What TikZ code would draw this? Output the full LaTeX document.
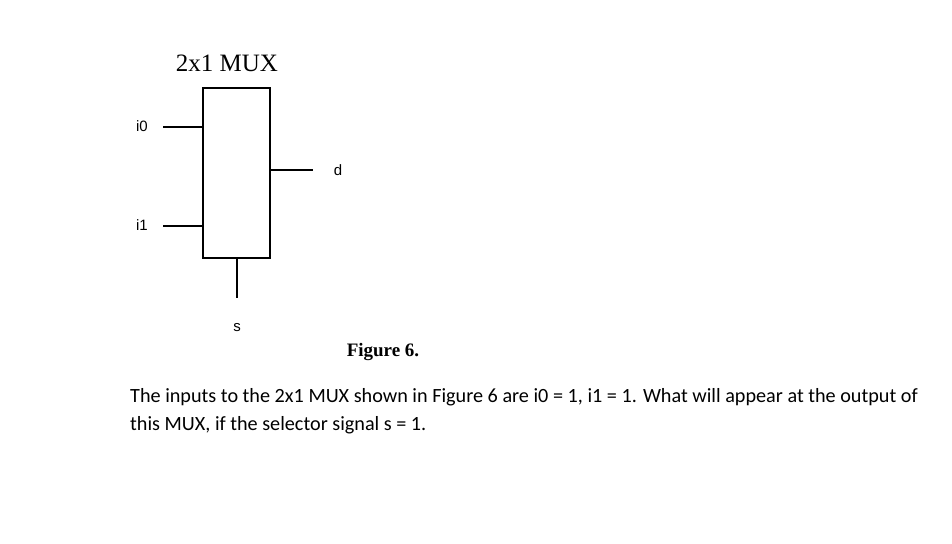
\documentclass[tikz,border=0pt]{standalone}
\usepackage{fontspec}
\setmainfont{Liberation Serif}
\newfontfamily\sansf{Liberation Sans}
\newfontfamily\calib{Carlito}
\begin{document}
\begin{tikzpicture}[x=1pt,y=-1pt,
  wire/.style={draw=black,line width=1.2pt},
  lbl/.style={font=\sansf\fontsize{15}{17}\selectfont,inner sep=0pt},
  para/.style={font=\calib\fontsize{20.2}{28}\selectfont,inner sep=0pt,anchor=west}]
\useasboundingbox (0,0) rectangle (952,543);
\node[draw,line width=1.2pt,minimum width=67pt,minimum height=170pt,inner sep=0pt] (mux) at (236.5,173) {};
\node[font=\fontsize{25}{28}\selectfont] (title) at (227,63) {2x1 MUX};
\coordinate (a0) at (163,127); \coordinate (b0) at (203,127);
\coordinate (a1) at (163,226); \coordinate (b1) at (203,226);
\coordinate (od) at (270,170); \coordinate (oe) at (313,170);
\coordinate (sb) at (237,258); \coordinate (se) at (237,298);
\draw[wire] (a0) -- (b0); \draw[wire] (a1) -- (b1);
\draw[wire] (od) -- (oe); \draw[wire] (sb) -- (se);
\node[lbl] (li0) at (142,126) {i0};
\node[lbl] (li1) at (142,225) {i1};
\node[lbl] (ld) at (338,170) {d};
\node[lbl] (ls) at (237,328) {s};
\node[font=\bfseries\fontsize{19}{22}\selectfont] (fig) at (383,352) {Figure 6.};
\node[para] (p1) at (130,397) {The inputs to the 2x1 MUX shown in Figure 6 are i0 = 1, i1 = 1. What will appear at the output of};
\node[para] (p2) at (130,425) {this MUX, if the selector signal s = 1.};
\end{tikzpicture}
\end{document}
